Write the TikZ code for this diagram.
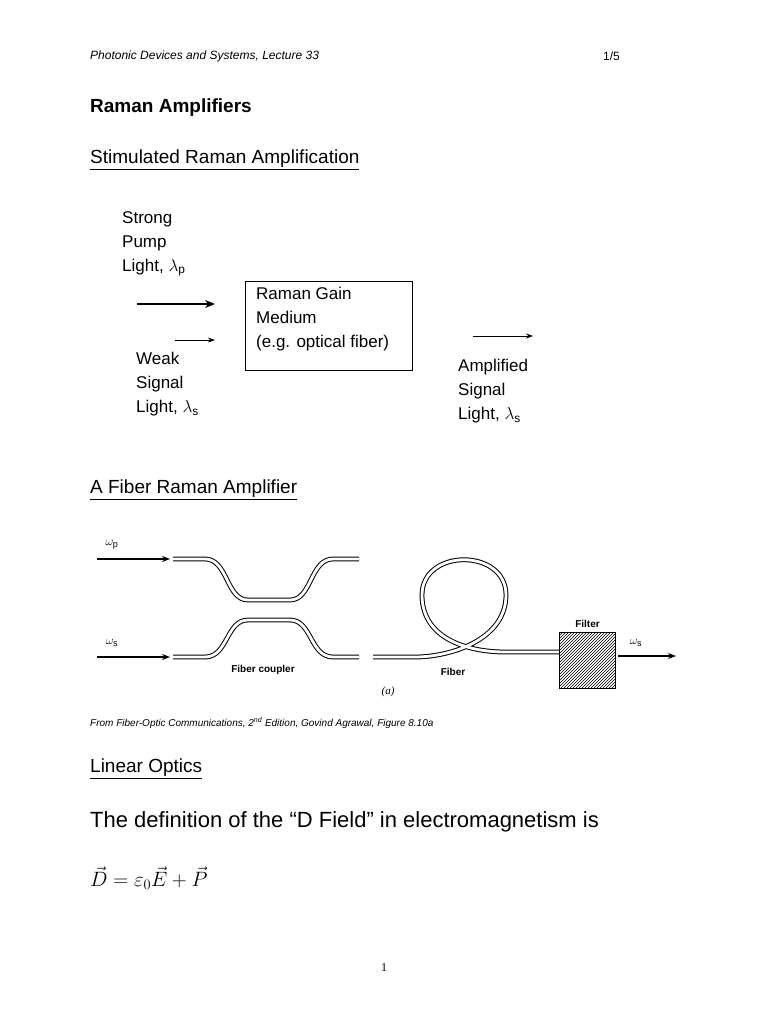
\documentclass[tikz,border=0pt]{standalone}
\usepackage{fontspec}
\setmainfont{Liberation Sans}
\newfontfamily\serifx{Liberation Serif}
\usetikzlibrary{patterns,arrows.meta,positioning}
\begin{document}
\begin{tikzpicture}[x=1pt,y=-1pt,
  txt/.style={anchor=west,inner sep=0pt,font=\fontsize{17}{20}\selectfont},
  lbl/.style={inner sep=0pt,font=\fontsize{10}{11}\selectfont\bfseries},
  om/.style={inner sep=0pt,font=\fontsize{13}{14}\selectfont},
  fib/.style={double=white,double distance=2.8pt,line width=1pt},
  arr/.style={-{Stealth[length=8pt,width=6pt]},line width=1.4pt}]
\useasboundingbox (0,0) rectangle (768,1024);
\node[txt,font=\fontsize{12}{14}\selectfont\itshape] (hd) at (90,56) {Photonic Devices and Systems, Lecture 33};
\node[anchor=east,inner sep=0pt,font=\fontsize{12}{14}\selectfont] (pg) at (620,56) {1/5};
\node[txt,font=\fontsize{19}{22}\selectfont\bfseries] (t1) at (90,108) {Raman Amplifiers};
\node[txt,font=\fontsize{19}{22}\selectfont] (t2) at (90,160) {\underline{Stimulated Raman Amplification}};
\node[anchor=north west,inner sep=0pt,align=left,font=\fontsize{17}{24}\selectfont] (pump) at (122,211) {Strong\\Pump\\Light, $\lambda_{\mathrm{p}}$};
\node[anchor=north west,inner sep=0pt,align=left,font=\fontsize{17}{24}\selectfont] (weak) at (136,352) {Weak\\Signal\\Light, $\lambda_{\mathrm{s}}$};
\node[anchor=north west,inner sep=0pt,align=left,font=\fontsize{17}{24}\selectfont] (amp) at (458,359) {Amplified\\Signal\\Light, $\lambda_{\mathrm{s}}$};
\node[draw,line width=0.8pt,anchor=north west,minimum width=167pt,minimum height=89pt,inner sep=0pt] (box) at (245,281) {};
\node[anchor=north west,inner sep=0pt,align=left,font=\fontsize{17}{24}\selectfont] (boxt) at (256,287) {Raman Gain\\Medium\\(e.g. optical fiber)};
\coordinate (a1) at (137,304); \coordinate (a1e) at (215,304);
\coordinate (a2) at (175,340); \coordinate (a2e) at (215,340);
\coordinate (a3) at (473,336); \coordinate (a3e) at (533,336);
\draw[-{Stealth[length=10pt,width=8pt]},line width=2.6pt] (a1) -- (a1e);
\draw[-{Stealth[length=7pt,width=5pt]},line width=0.8pt] (a2) -- (a2e);
\draw[-{Stealth[length=7pt,width=5pt]},line width=0.8pt] (a3) -- (a3e);
\node[txt,font=\fontsize{19}{22}\selectfont] (t3) at (90,490) {\underline{A Fiber Raman Amplifier}};
% figure
\coordinate (wp0) at (97,559); \coordinate (wp1) at (170,559);
\coordinate (ws0) at (97,657); \coordinate (ws1) at (170,657);
\draw[arr] (wp0) -- (wp1);
\draw[arr] (ws0) -- (ws1);
\node[om] (lwp) at (112,545) {$\omega_{\mathrm{p}}$};
\node[om] (lws) at (112,643) {$\omega_{\mathrm{s}}$};
\draw[fib] (173,559) -- (205,559) .. controls (228,559) and (226,600) .. (248,600) -- (290,600) .. controls (312,600) and (310,559) .. (333,559) -- (359,559);
\draw[fib] (173,657) -- (205,657) .. controls (228,657) and (226,620) .. (248,620) -- (290,620) .. controls (312,620) and (310,657) .. (333,657) -- (359,657);
\draw[fib] (373,657) -- (415,657) .. controls (450,657) and (506,640) .. (506,595) .. controls (506,548) and (422,548) .. (422,595) .. controls (422,640) and (470,652) .. (505,652) -- (559,652);
\node[draw,line width=1pt,pattern=north east lines,anchor=north west,minimum width=56pt,minimum height=56pt,inner sep=0pt] (flt) at (559,632) {};
\node[lbl,anchor=south] (lf) at ([yshift=4pt]flt.north) {Filter};
\coordinate (o0) at (618,656); \coordinate (o1) at (676,656);
\draw[arr] (o0) -- (o1);
\node[om] (lo) at (636,643) {$\omega_{\mathrm{s}}$};
\node[lbl] (lfc) at (263,670) {Fiber coupler};
\node[lbl] (lfb) at (453,672) {Fiber};
\node[inner sep=0pt,font=\fontsize{11}{12}\selectfont\serifx\itshape] (la) at (388,692) {(a)};
\node[txt,font=\fontsize{10}{12}\selectfont\itshape] (cap) at (90,723) {From Fiber-Optic Communications, 2\textsuperscript{nd} Edition, Govind Agrawal, Figure 8.10a};
\node[txt,font=\fontsize{19}{22}\selectfont] (t4) at (90,769) {\underline{Linear Optics}};
\node[txt,font=\fontsize{22}{26}\selectfont] (def) at (90,822) {The definition of the “D Field” in electromagnetism is};
\node[txt,font=\fontsize{22}{26}\selectfont] (eq) at (90,878) {$\vec{D}=\varepsilon_0\vec{E}+\vec{P}$};
\node[inner sep=0pt,font=\fontsize{12}{14}\selectfont\serifx] (pn) at (384,968) {1};
\end{tikzpicture}
\end{document}
